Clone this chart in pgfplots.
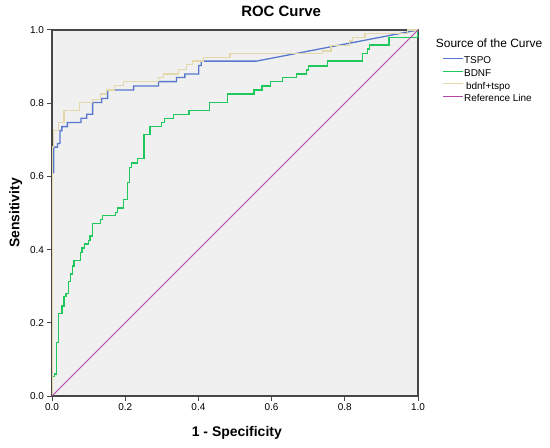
\documentclass[border=0pt]{standalone}
\usepackage{fontspec}
\setmainfont{Liberation Sans}
\usepackage{pgfplots}
\pgfplotsset{compat=1.18}
\definecolor{bgc}{RGB}{240,240,240}
\definecolor{cblue}{RGB}{88,120,205}
\definecolor{cgreen}{RGB}{30,200,90}
\definecolor{ctan}{RGB}{226,216,172}
\definecolor{cmag}{RGB}{180,70,170}
\definecolor{framec}{RGB}{70,70,70}
\begin{document}
\begin{tikzpicture}
\useasboundingbox (0,0) rectangle (550bp,448bp);
\begin{axis}[
  name=ax,
  at={(52bp,52bp)}, anchor=south west,
  scale only axis, width=366bp, height=366bp,
  xmin=0, xmax=1, ymin=0, ymax=1,
  xtick={0,0.2,0.4,0.6,0.8,1}, ytick={0,0.2,0.4,0.6,0.8,1},
  tick pos=left, tick align=outside, major tick length=4.5bp,
  axis background/.style={fill=bgc},
  axis line style={draw=framec, line width=1.2bp},
  every tick/.style={draw=framec, line width=1bp},
  tick label style={font=\fontsize{10}{12}\selectfont, text=black},
  /pgf/number format/fixed, /pgf/number format/fixed zerofill,
  /pgf/number format/precision=1, /pgf/number format/assume math mode=true,
  title={ROC Curve},
  title style={font=\bfseries\fontsize{15}{18}\selectfont, at={(axis description cs:0.626,1.02)}, anchor=base},
  xlabel={1 - Specificity},
  xlabel style={font=\bfseries\fontsize{14}{17}\selectfont, at={(axis description cs:0.505,-0.111)}, anchor=base},
  ylabel={Sensitivity},
  ylabel style={font=\bfseries\fontsize{14}{17}\selectfont, at={(axis description cs:-0.0893,0.5)}, anchor=base, rotate=0},
  legend image code/.code={\draw[#1, line width=1.1bp] (0bp,3.6bp) -- (20bp,3.6bp);},
  legend cell align=left,
  legend style={at={(axis description cs:1.0656,0.9299)}, anchor=north west, draw=none, fill=none,
    inner sep=0pt, outer sep=0pt, row sep=0pt, font=\fontsize{10}{12}\selectfont,
    nodes={inner xsep=1bp, inner ysep=0pt, text height=8.2bp, text depth=4.5bp}},
]
\addplot[cblue, line width=1.3bp] coordinates {
(0,0)(0,0.61)(0.005,0.61)(0.005,0.68)(0.015,0.68)(0.015,0.69)(0.022,0.69)(0.022,0.725)
(0.027,0.725)(0.027,0.736)(0.042,0.736)(0.042,0.747)(0.079,0.747)(0.079,0.759)(0.095,0.759)
(0.095,0.770)(0.111,0.770)(0.111,0.802)(0.136,0.802)(0.136,0.813)(0.152,0.813)(0.152,0.836)
(0.223,0.836)(0.223,0.847)(0.291,0.847)(0.291,0.859)(0.340,0.859)(0.340,0.870)(0.363,0.870)
(0.363,0.880)(0.401,0.880)(0.401,0.903)(0.408,0.903)(0.408,0.915)(0.559,0.915)(1,1)};
\addlegendentry{TSPO}
\addplot[cgreen, line width=1.3bp] coordinates {
(0,0)(0,0.053)(0.006,0.053)(0.006,0.06)(0.013,0.06)(0.013,0.147)(0.018,0.147)(0.018,0.226)
(0.027,0.226)(0.027,0.246)(0.033,0.246)(0.033,0.271)(0.038,0.271)(0.038,0.281)(0.045,0.281)
(0.045,0.312)(0.050,0.312)(0.050,0.333)(0.056,0.333)(0.056,0.355)(0.060,0.355)(0.060,0.370)
(0.077,0.370)(0.077,0.392)(0.082,0.392)(0.082,0.404)(0.088,0.404)(0.088,0.415)(0.099,0.415)
(0.099,0.424)(0.104,0.424)(0.104,0.437)(0.110,0.437)(0.110,0.471)(0.132,0.471)(0.132,0.483)
(0.138,0.483)(0.138,0.493)(0.173,0.493)(0.173,0.502)(0.179,0.502)(0.179,0.514)(0.195,0.514)
(0.195,0.536)(0.206,0.536)(0.206,0.583)(0.212,0.583)(0.212,0.625)(0.217,0.625)(0.217,0.637)
(0.234,0.637)(0.234,0.648)(0.251,0.648)(0.251,0.714)(0.268,0.714)(0.268,0.736)(0.300,0.736)
(0.300,0.747)(0.307,0.747)(0.307,0.758)(0.332,0.758)(0.332,0.769)(0.374,0.769)(0.374,0.780)
(0.430,0.780)(0.430,0.802)(0.479,0.802)(0.479,0.825)(0.552,0.825)(0.552,0.836)(0.574,0.836)
(0.574,0.847)(0.597,0.847)(0.597,0.859)(0.629,0.859)(0.629,0.870)(0.668,0.870)(0.668,0.880)
(0.695,0.880)(0.695,0.891)(0.700,0.891)(0.700,0.902)(0.753,0.902)(0.753,0.915)(0.849,0.915)
(0.849,0.936)(0.862,0.936)(0.862,0.948)(0.868,0.948)(0.868,0.959)(0.921,0.959)(0.921,0.980)
(1,0.980)(1,1)};
\addlegendentry{BDNF}
\addplot[ctan, line width=1.3bp] coordinates {
(0,0)(0,0.68)(0.005,0.68)(0.005,0.725)(0.017,0.725)(0.017,0.747)(0.033,0.747)(0.033,0.780)
(0.075,0.780)(0.075,0.802)(0.111,0.802)(0.111,0.811)(0.133,0.811)(0.133,0.825)(0.148,0.825)
(0.148,0.836)(0.170,0.836)(0.170,0.848)(0.195,0.848)(0.195,0.859)(0.291,0.859)(0.291,0.870)
(0.305,0.870)(0.305,0.880)(0.345,0.880)(0.345,0.893)(0.367,0.893)(0.367,0.906)(0.384,0.906)
(0.384,0.915)(0.413,0.915)(0.413,0.925)(0.486,0.925)(0.486,0.936)(0.739,0.936)(0.739,0.943)
(0.762,0.943)(0.762,0.957)(0.812,0.957)(0.812,0.970)(0.821,0.970)(0.821,0.979)(0.855,0.979)
(0.855,0.991)(0.972,0.991)(0.972,1)(1,1)};
\addlegendentry{\hspace{2bp}bdnf+tspo}
\addplot[cmag, line width=0.9bp] coordinates {(0,0)(1,1)};
\addlegendentry{Reference Line}
\end{axis}
\node[anchor=base west, inner sep=0pt, font=\fontsize{12}{14}\selectfont] at (435.7bp,400.7bp) {Source of the Curve};
\end{tikzpicture}
\end{document}
